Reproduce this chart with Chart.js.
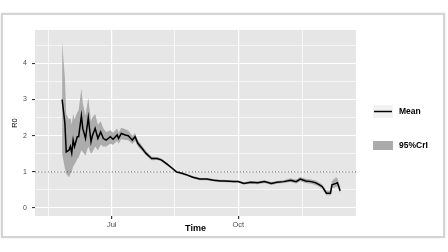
<!DOCTYPE html>
<html>
<head>
<meta charset="utf-8">
<script src="https://cdn.jsdelivr.net/npm/chart.js@4/dist/chart.umd.min.js"></script>
<style>
  html, body { margin: 0; padding: 0; background: #fff; }
  #wrap { position: relative; width: 448px; height: 252px; }
  #frame {
    position: absolute; left: 1px; top: 13px; width: 440px; height: 221px;
    border: 2px solid #d4d4d4; box-shadow: 0 0 2px #e0e0e0; pointer-events: none;
  }
  canvas { position: absolute; left: 0; top: 0; }
</style>
</head>
<body>
<div id="wrap">
  <canvas id="c" width="448" height="252"></canvas>
  <div id="frame"></div>
</div>
<script>
// days counted from 1 July
const days  = [-36, -34, -33, -31, -30, -29, -28, -27, -25, -24, -22, -21, -19, -17, -15, -14, -12, -10, -8, -6, -4, -1, 1, 4, 5, 7, 10, 12, 15, 17, 19, 22, 25, 29, 33, 36, 40, 44, 47, 51, 55, 59, 64, 69, 74, 79, 82, 89, 92, 96, 101, 106, 111, 116, 120, 125, 130, 134, 137, 141, 145, 148, 151, 153, 156, 159, 160, 163, 164, 166];
const mean  = [3.0, 2.35, 1.55, 1.6, 1.7, 1.52, 1.88, 1.7, 1.97, 1.97, 2.55, 2.2, 1.92, 2.5, 1.83, 2.0, 2.2, 1.92, 2.1, 1.92, 1.88, 1.97, 1.9, 2.02, 1.92, 2.06, 2.02, 2.0, 1.88, 1.97, 1.79, 1.65, 1.51, 1.37, 1.37, 1.33, 1.22, 1.1, 1.0, 0.96, 0.91, 0.85, 0.8, 0.8, 0.77, 0.75, 0.745, 0.73, 0.73, 0.68, 0.71, 0.7, 0.73, 0.68, 0.71, 0.73, 0.77, 0.73, 0.8, 0.75, 0.73, 0.7, 0.64, 0.59, 0.41, 0.41, 0.64, 0.68, 0.7, 0.48];
const lower = [1.5, 1.1, 0.95, 0.85, 0.95, 1.0, 1.15, 1.2, 1.35, 1.4, 1.6, 1.55, 1.45, 1.7, 1.5, 1.55, 1.7, 1.6, 1.75, 1.7, 1.7, 1.78, 1.75, 1.85, 1.78, 1.9, 1.88, 1.87, 1.77, 1.85, 1.7, 1.58, 1.45, 1.32, 1.33, 1.29, 1.18, 1.07, 0.97, 0.93, 0.88, 0.82, 0.77, 0.77, 0.74, 0.72, 0.71, 0.7, 0.7, 0.65, 0.67, 0.66, 0.69, 0.64, 0.67, 0.69, 0.72, 0.68, 0.74, 0.69, 0.67, 0.64, 0.58, 0.53, 0.35, 0.35, 0.55, 0.58, 0.6, 0.4];
const upper = [4.6, 3.6, 2.6, 2.45, 2.5, 2.3, 2.6, 2.45, 2.65, 2.7, 3.3, 2.9, 2.55, 3.05, 2.4, 2.5, 2.6, 2.3, 2.4, 2.2, 2.1, 2.15, 2.08, 2.2, 2.08, 2.22, 2.18, 2.14, 2.0, 2.07, 1.88, 1.73, 1.57, 1.42, 1.41, 1.37, 1.26, 1.13, 1.03, 0.99, 0.94, 0.88, 0.83, 0.83, 0.8, 0.78, 0.78, 0.76, 0.76, 0.71, 0.75, 0.74, 0.77, 0.72, 0.75, 0.77, 0.82, 0.78, 0.86, 0.81, 0.79, 0.76, 0.7, 0.65, 0.48, 0.48, 0.74, 0.85, 0.82, 0.58];

const X_MIN = -55.7, X_MAX = 177.5;
const Y_MIN = -0.22, Y_MAX = 4.92;
const xTicks = [-45.8, 0, 46, 92, 138.3];
const xTickLabels = { 0: 'Jul', 92: 'Oct' };
const threshold = 1;

const FONT = '"Liberation Sans", Arial, sans-serif';
const pts = (ys) => days.map((d, i) => ({ x: d, y: ys[i] }));

const legendPlugin = {
  id: 'sideLegend',
  afterDraw(chart) {
    const ctx = chart.ctx;
    ctx.save();
    ctx.fillStyle = '#f2f2f2';
    ctx.fillRect(373, 105, 20, 13);
    ctx.strokeStyle = '#000';
    ctx.lineWidth = 1.5;
    ctx.beginPath();
    ctx.moveTo(374, 111.5);
    ctx.lineTo(392, 111.5);
    ctx.stroke();
    ctx.fillStyle = '#ababab';
    ctx.fillRect(373, 141, 20, 9);
    ctx.fillStyle = '#000';
    ctx.font = 'bold 8.5px ' + FONT;
    ctx.textBaseline = 'middle';
    ctx.fillText('Mean', 399, 112);
    ctx.fillText('95%CrI', 399, 146);
    ctx.restore();
  }
};

new Chart(document.getElementById('c'), {
  type: 'line',
  data: {
    datasets: [
      { label: 'Mean', data: pts(mean), borderColor: '#000', borderWidth: 1.5, pointRadius: 0, fill: false, tension: 0, order: 0 },
      { label: 'threshold', data: [{ x: X_MIN, y: threshold }, { x: X_MAX, y: threshold }], borderColor: '#444', borderWidth: 1, borderDash: [1, 2.2], pointRadius: 0, fill: false, order: 1 },
      { label: 'lower', data: pts(lower), borderWidth: 0, pointRadius: 0, fill: false, tension: 0, order: 3 },
      { label: '95%CrI', data: pts(upper), borderWidth: 0, pointRadius: 0, fill: '-1', backgroundColor: 'rgba(165,165,165,0.9)', tension: 0, order: 2 }
    ]
  },
  options: {
    responsive: false,
    animation: false,
    layout: { padding: { left: 4, top: 30, right: 92, bottom: 18 } },
    plugins: { legend: { display: false }, tooltip: { enabled: false } },
    scales: {
      x: {
        type: 'linear', min: X_MIN, max: X_MAX,
        afterBuildTicks: (s) => { s.ticks = xTicks.map(v => ({ value: v })); },
        afterFit: (s) => { s.height = 18; },
        border: { display: false },
        grid: {
          color: '#ffffff',
          lineWidth: (c) => (xTickLabels[c.tick && c.tick.value] ? 1.2 : 0.7),
          tickColor: (c) => (xTickLabels[c.tick && c.tick.value] ? '#333' : 'rgba(0,0,0,0)'),
          tickLength: 3
        },
        ticks: {
          autoSkip: false, maxRotation: 0, padding: 1,
          color: '#4d4d4d', font: { size: 7.5, family: FONT },
          callback: (v) => xTickLabels[v] || ''
        },
        title: { display: true, text: 'Time', color: '#000', padding: { top: 0, bottom: 0 },
          font: { size: 9, weight: 'bold', family: FONT } }
      },
      y: {
        min: Y_MIN, max: Y_MAX,
        afterBuildTicks: (s) => { s.ticks = [0, 0.5, 1, 1.5, 2, 2.5, 3, 3.5, 4, 4.5].map(v => ({ value: v })); },
        afterFit: (s) => { s.width = 31; },
        border: { display: false },
        grid: {
          color: '#ffffff',
          lineWidth: (c) => (c.tick && Number.isInteger(c.tick.value) ? 1.1 : 0.6),
          tickColor: (c) => (c.tick && Number.isInteger(c.tick.value) ? '#333' : 'rgba(0,0,0,0)'),
          tickLength: 3
        },
        ticks: {
          padding: 5, color: '#4d4d4d', font: { size: 7, family: FONT },
          callback: (v) => (Number.isInteger(v) ? String(v) : '')
        },
        title: { display: true, text: 'R0', color: '#000', padding: { top: 6, bottom: 0 },
          font: { size: 7.5, family: FONT } }
      }
    }
  },
  plugins: [
    {
      id: 'panelBg',
      beforeDraw(chart) {
        const a = chart.chartArea, ctx = chart.ctx;
        ctx.save();
        ctx.fillStyle = '#e6e6e6';
        ctx.fillRect(a.left, a.top, a.right - a.left, a.bottom - a.top);
        ctx.restore();
      }
    },
    legendPlugin
  ]
});
</script>
</body>
</html>
